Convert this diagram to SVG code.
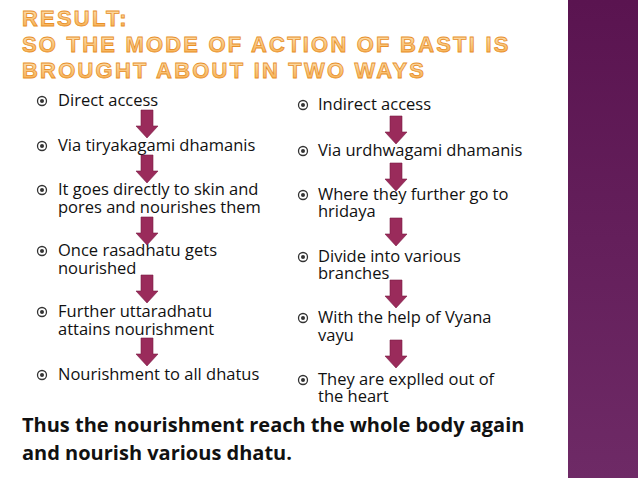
<svg xmlns="http://www.w3.org/2000/svg" width="638" height="478" viewBox="0 0 638 478">
<defs>
<linearGradient id="tg" x1="0" y1="0" x2="0" y2="1"><stop offset="0" stop-color="#fde8c0"/><stop offset="1" stop-color="#f5a640"/></linearGradient>
<linearGradient id="sb" x1="0" y1="0" x2="0" y2="1"><stop offset="0" stop-color="#5a1450"/><stop offset="1" stop-color="#6e2a66"/></linearGradient>
<path id="ar" d="M-6,0 H6 V16 H11 L0,28 L-11,16 H-6 Z"/>
<g id="bu"><circle r="4.5" fill="none" stroke="#333" stroke-width="1.3"/><circle r="2" fill="#333"/></g>
</defs>
<style>
.t{font-family:"Liberation Sans",Arial,sans-serif;font-weight:900;font-size:22px;fill:url(#tg);stroke:#e8902a;stroke-width:0.8;letter-spacing:2.2px}
.b{font-family:"Open Sans",sans-serif;font-size:16.5px;fill:#111}
.f{font-family:"Open Sans",sans-serif;font-weight:bold;font-size:20px;fill:#111}
.a{fill:#9a2b5b;stroke:#7a1d45;stroke-width:0.6}
</style>
<rect width="638" height="478" fill="#fff"/>
<rect x="568" y="0" width="70" height="478" fill="url(#sb)"/>
<g id="title">
<text class="t" x="22" y="26">RESULT:</text>
<text class="t" x="22" y="52">SO THE MODE OF ACTION OF BASTI IS</text>
<text class="t" x="22" y="78">BROUGHT ABOUT IN TWO WAYS</text>
</g>
<g id="left" class="b">
<use href="#bu" x="42" y="101"/><text x="58" y="106">Direct access</text>
<use href="#bu" x="42" y="146"/><text x="58" y="151">Via tiryakagami dhamanis</text>
<use href="#bu" x="42" y="190"/><text x="58" y="195">It goes directly to skin and</text><text x="58" y="213">pores and nourishes them</text>
<use href="#bu" x="42" y="251"/><text x="58" y="256">Once rasadhatu gets</text><text x="58" y="274">nourished</text>
<use href="#bu" x="42" y="312"/><text x="58" y="317">Further uttaradhatu</text><text x="58" y="335">attains nourishment</text>
<use href="#bu" x="42" y="375"/><text x="58" y="380">Nourishment to all dhatus</text>
</g>
<g id="right" class="b">
<use href="#bu" x="303" y="105"/><text x="318" y="110">Indirect access</text>
<use href="#bu" x="303" y="151"/><text x="318" y="156">Via urdhwagami dhamanis</text>
<use href="#bu" x="303" y="195"/><text x="318" y="200">Where they further go to</text><text x="318" y="217">hridaya</text>
<use href="#bu" x="303" y="257"/><text x="318" y="262">Divide into various</text><text x="318" y="279">branches</text>
<use href="#bu" x="303" y="318"/><text x="318" y="323">With the help of Vyana</text><text x="318" y="341">vayu</text>
<use href="#bu" x="303" y="380"/><text x="318" y="385">They are explled out of</text><text x="318" y="402">the heart</text>
</g>
<g id="connectors" class="a">
<use href="#ar" x="147" y="110"/><use href="#ar" x="147" y="155"/><use href="#ar" x="147" y="217"/><use href="#ar" x="147" y="275"/><use href="#ar" x="147" y="338"/>
<use href="#ar" x="396" y="116"/><use href="#ar" x="396" y="163"/><use href="#ar" x="396" y="218"/><use href="#ar" x="396" y="280"/><use href="#ar" x="396" y="340"/>
</g>
<g id="footer" class="f">
<text x="22" y="432">Thus the nourishment reach the whole body again</text>
<text x="22" y="460">and nourish various dhatu.</text>
</g>
</svg>
